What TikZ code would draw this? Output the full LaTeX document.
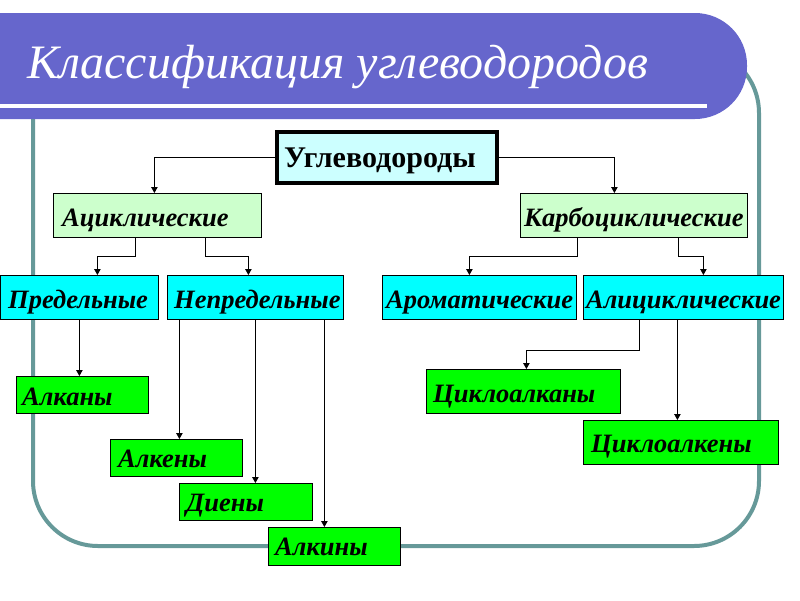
\documentclass[tikz,border=0pt]{standalone}
\usepackage{fontspec}
\setmainfont{Liberation Serif}
\usetikzlibrary{arrows.meta,calc}
\definecolor{bannerc}{HTML}{6666CC}
\definecolor{framec}{HTML}{669999}
\definecolor{lcyan}{HTML}{CCFFFF}
\definecolor{lgreen}{HTML}{CCFFCC}
\definecolor{cyanc}{HTML}{00FFFF}
\definecolor{greenc}{HTML}{00FF00}
\tikzset{
  box/.style={draw=black, line width=0.8pt, anchor=north west, inner sep=0pt},
  lvl1/.style={box, fill=lgreen},
  lvl2/.style={box, fill=cyanc},
  lvl3/.style={box, fill=greenc},
  lbl/.style={anchor=base west, inner sep=0pt, font=\fontsize{26.5}{30}\selectfont\bfseries\itshape},
  arr/.style={draw=black, line width=0.8pt, -{Triangle[width=6.5pt,length=6pt]}},
}
\begin{document}
\begin{tikzpicture}[x=1pt,y=-1pt]
\useasboundingbox (0,0) rectangle (800,600);
% frame
\draw[framec, line width=4pt, rounded corners=65pt] (33,48) rectangle (759,546);
% banner
\fill[bannerc] (0,119) -- (0,13) [rounded corners=52pt] -- (747,13) -- (747,119) [sharp corners] -- (0,119) -- cycle;
\draw[white, line width=4pt] (0,106) -- (707,106);
\node[anchor=base west, text=white, inner sep=0pt, font=\fontsize{48}{52}\selectfont\itshape] (title) at (27,78) {Классификация углеводородов};
% root
\node[draw=black, line width=4.5pt, fill=lcyan, anchor=north west, minimum width=220pt, minimum height=51pt, inner sep=0pt] (root) at (274.5,129.5) {};
\node[anchor=base west, inner sep=0pt, font=\fontsize{30}{34}\selectfont\bfseries] (roott) at (284,167) {Углеводороды};
% level 1
\node[lvl1, minimum width=208pt, minimum height=44pt] (acyc) at (53,193) {};
\node[lbl] (acyct) at ($(acyc.north west)+(9,33)$) {Ациклические};
\node[lvl1, minimum width=227pt, minimum height=44pt] (karbo) at (520,193) {};
\node[lbl] (karbot) at ($(karbo.north west)+(4,33)$) {Карбоциклические};
% level 2
\node[lvl2, minimum width=158pt, minimum height=44pt] (pred) at (0,275) {};
\node[lbl] (predt) at ($(pred.north west)+(8,33)$) {Предельные};
\node[lvl2, minimum width=176pt, minimum height=44pt] (neprd) at (167,275) {};
\node[lbl] (neprdt) at ($(neprd.north west)+(7,33)$) {Непредельные};
\node[lvl2, minimum width=194pt, minimum height=44pt] (arom) at (382,275) {};
\node[lbl] (aromt) at ($(arom.north west)+(4,33)$) {Ароматические};
\node[lvl2, minimum width=200pt, minimum height=44pt] (alic) at (583,275) {};
\node[lbl] (alict) at ($(alic.north west)+(3,33)$) {Алициклические};
% level 3
\node[lvl3, minimum width=132pt, minimum height=37pt] (alkany) at (16,376) {};
\node[lbl] (alkanyt) at ($(alkany.north west)+(6,29)$) {Алканы};
\node[lvl3, minimum width=132pt, minimum height=37pt] (alkeny) at (110,439) {};
\node[lbl] (alkenyt) at ($(alkeny.north west)+(8,28.5)$) {Алкены};
\node[lvl3, minimum width=133pt, minimum height=37pt] (dieny) at (179,483) {};
\node[lbl] (dienyt) at ($(dieny.north west)+(7,28.5)$) {Диены};
\node[lvl3, minimum width=132pt, minimum height=38pt] (alkiny) at (268,527) {};
\node[lbl] (alkinyt) at ($(alkiny.north west)+(7,28.5)$) {Алкины};
\node[lvl3, minimum width=194pt, minimum height=44pt] (cykany) at (426,369) {};
\node[lbl] (cykanyt) at ($(cykany.north west)+(7,33)$) {Циклоалканы};
\node[lvl3, minimum width=195pt, minimum height=44pt] (cykeny) at (583,420) {};
\node[lbl] (cykenyt) at ($(cykeny.north west)+(8,32)$) {Циклоалкены};
% connectors
\draw[arr] (root.west) -| ([xshift=-3pt]acyc.north);
\draw[arr] (root.east) -| ([xshift=-19.5pt]karbo.north);
\draw[arr] ([xshift=-22pt]acyc.south) -- ++(0,19) -| ([xshift=18pt]pred.north);
\draw[arr] ([xshift=48pt]acyc.south) -- ++(0,19) -| ([xshift=-7pt]neprd.north);
\draw[arr] ([xshift=-56.5pt]karbo.south) -- ++(0,19) -| ([xshift=-10pt]arom.north);
\draw[arr] ([xshift=44.5pt]karbo.south) -- ++(0,19) -| ([xshift=20pt]alic.north);
\draw[arr] (pred.south) -- (pred.south |- alkany.north);
\draw[arr] ([xshift=-76pt]neprd.south) -- ([xshift=-76pt]neprd.south |- alkeny.north);
\draw[arr] (neprd.south) -- (neprd.south |- dieny.north);
\draw[arr] ([xshift=69pt]neprd.south) -- ([xshift=69pt]neprd.south |- alkiny.north);
\draw[arr] ([xshift=-44pt]alic.south) -- ++(0,31) -| ([xshift=3pt]cykany.north);
\draw[arr] ([xshift=-6pt]alic.south) -- ([xshift=-6pt]alic.south |- cykeny.north);
\end{tikzpicture}
\end{document}
